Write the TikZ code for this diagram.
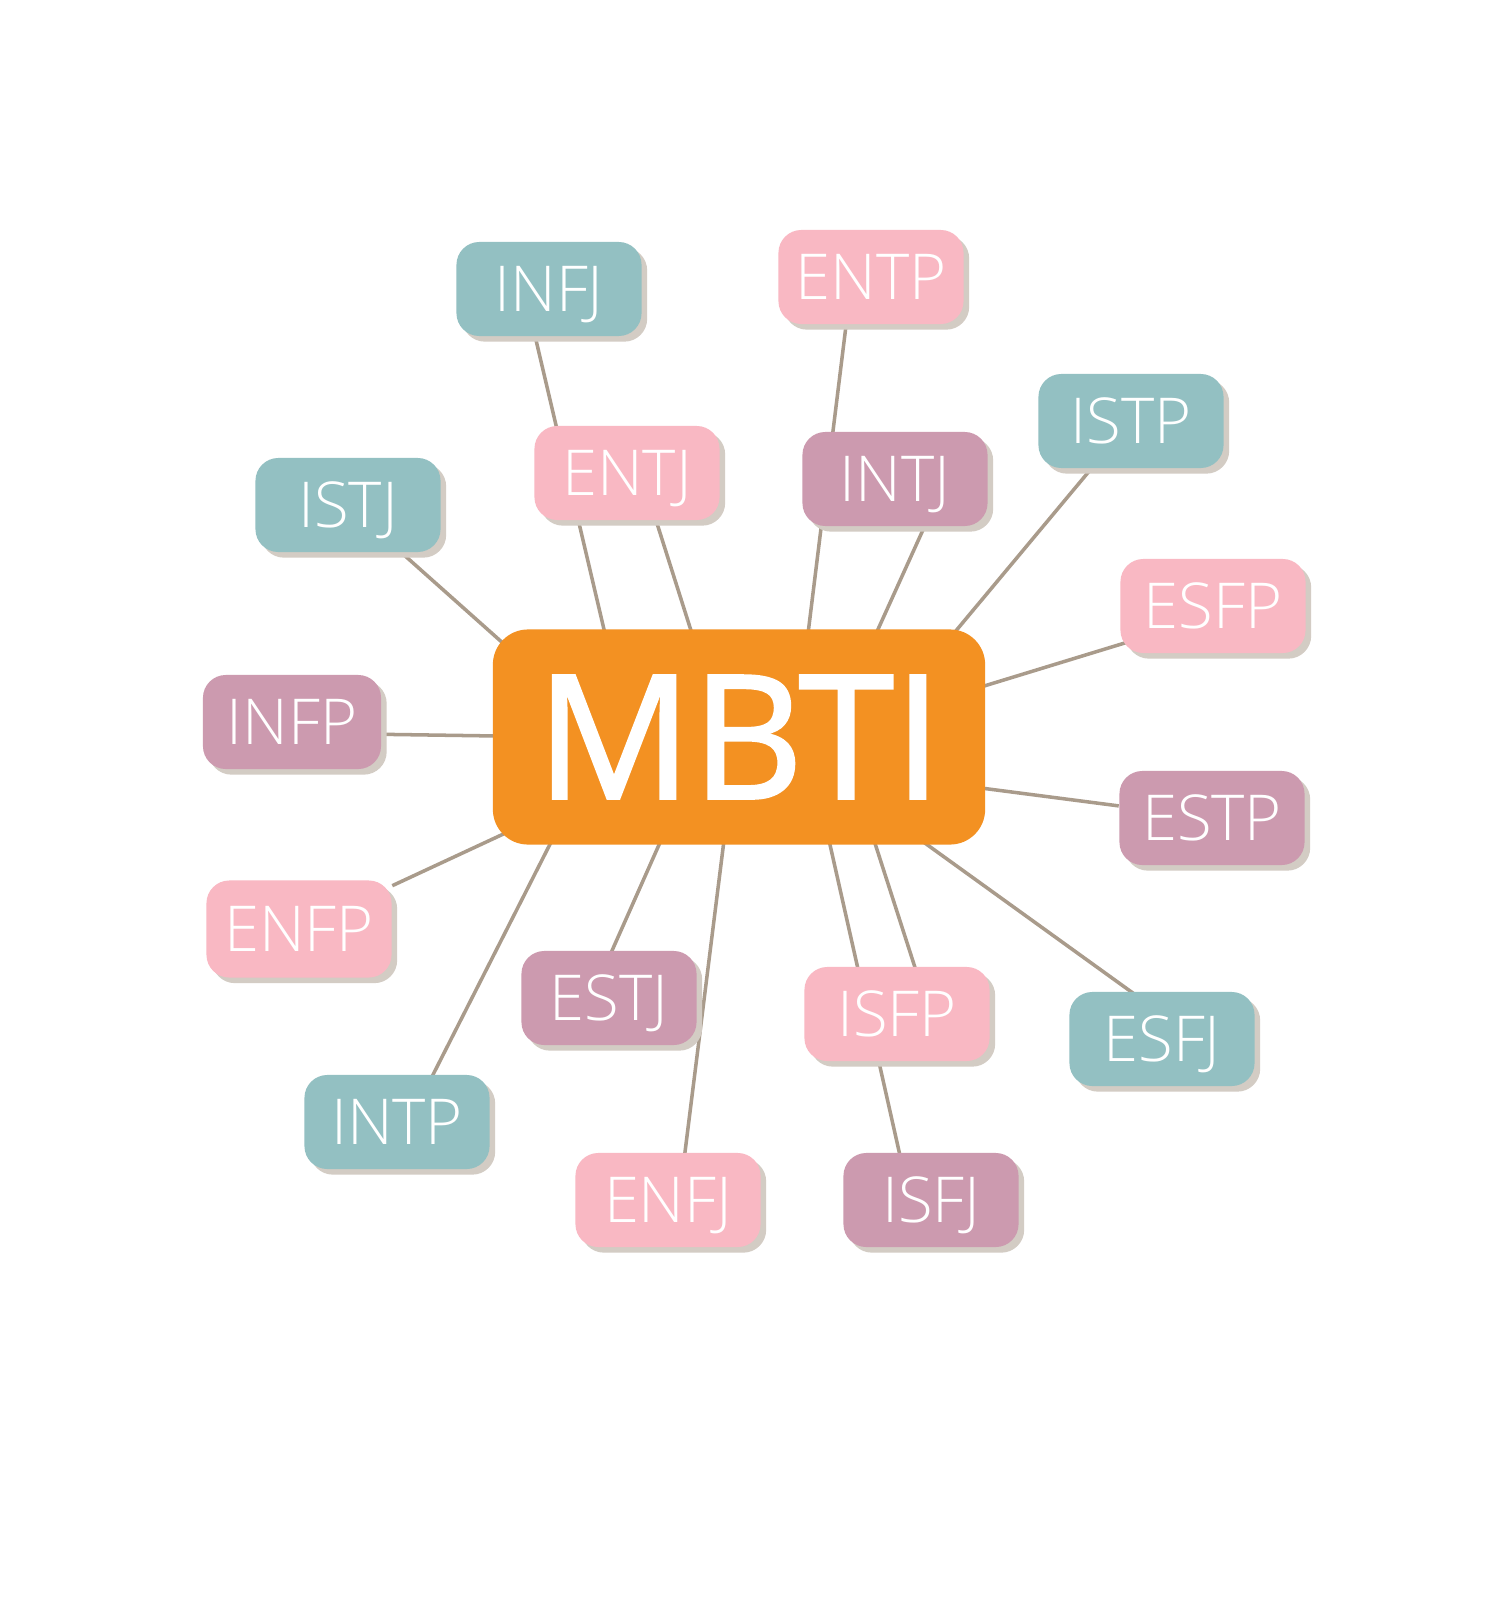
\documentclass[tikz,border=0pt]{standalone}
\usepackage{fontspec}
\setmainfont{Open Sans}
\IfFontExistsTF{Open Sans Light}{\newfontfamily\lightfont{Open Sans Light}}{\newfontfamily\lightfont{Open Sans}}
\IfFontExistsTF{Open Sans SemiBold}{\newfontfamily\heavyfont{Open Sans SemiBold}}{\newfontfamily\heavyfont{Open Sans}[FakeBold=1.5]}
\usetikzlibrary{calc,backgrounds,shadows}
\definecolor{cTeal}{HTML}{93C0C2}
\definecolor{cPink}{HTML}{F9B8C3}
\definecolor{cMauve}{HTML}{CC9AAF}
\definecolor{cOrange}{HTML}{F39122}
\definecolor{cShadow}{HTML}{D3CCC4}
\definecolor{cLine}{HTML}{A99B8B}
\begin{document}
\begin{tikzpicture}[x=0.01cm,y=0.01cm,
  lbl/.style={rounded corners=6.5pt, minimum width=18.5mm, minimum height=9.4mm,
    inner sep=0pt, text=white, font=\lightfont\fontsize{18}{20}\selectfont,
    text height=12.9pt, text depth=0pt,
    drop shadow={shadow xshift=1.6pt, shadow yshift=-1.6pt, fill=cShadow, opacity=1}},
  tealbox/.style={lbl, fill=cTeal},
  pinkbox/.style={lbl, fill=cPink},
  mauvebox/.style={lbl, fill=cMauve},
  mbti/.style={rounded corners=10pt, fill=cOrange, minimum width=49.2mm, minimum height=21.5mm,
    inner sep=0pt, text=white, font=\heavyfont\fontsize{49}{54}\selectfont,
    text height=35pt, text depth=0pt},
  link/.style={draw=cLine, line width=1pt}]
\useasboundingbox (0,0) rectangle (1500,-1600);

\node[mbti] (M) at (739,-737) {MBTI};

\node[tealbox]  (INFJ) at (549,-289) {INFJ};
\node[pinkbox]  (ENTP) at (871,-277) {ENTP};
\node[tealbox]  (ISTP) at (1131,-421) {ISTP};
\node[pinkbox]  (ENTJ) at (627,-473) {ENTJ};
\node[mauvebox] (INTJ) at (895,-479) {INTJ};
\node[tealbox]  (ISTJ) at (348,-505) {ISTJ};
\node[pinkbox]  (ESFP) at (1213,-606) {ESFP};
\node[mauvebox, minimum width=17.8mm] (INFP) at (292,-722) {INFP};
\node[mauvebox] (ESTP) at (1212,-818) {ESTP};
\node[pinkbox, minimum height=9.7mm] (ENFP) at (299,-929) {ENFP};
\node[mauvebox, minimum width=17.5mm] (ESTJ) at (609,-998) {ESTJ};
\node[pinkbox]  (ISFP) at (897,-1014) {ISFP};
\node[tealbox]  (ESFJ) at (1162,-1039) {ESFJ};
\node[tealbox]  (INTP) at (397,-1122) {INTP};
\node[pinkbox]  (ENFJ) at (668,-1200) {ENFJ};
\node[mauvebox, minimum width=17.5mm] (ISFJ) at (931,-1200) {ISFJ};

\begin{scope}[on background layer]
\fill[white] (0,0) rectangle (1500,-1600);
\draw[link] ($(M.north)+(-134,-5)$) -- ($(INFJ)+(-25,0)$);
\draw[link] ($(M.north)+(69,-5)$) -- ($(ENTP)+(-19,0)$);
\draw[link] ($(M.north)+(212,-8)$) -- (ISTP);
\draw[link] ($(M.north)+(-47,-5)$) -- ($(ENTJ)+(14,0)$);
\draw[link] ($(M.north)+(137,-5)$) -- ($(INTJ)+(51,0)$);
\draw[link] ($(M.north)+(-232,-18)$) -- (ISTJ);
\draw[link] ($(M.east)+(-5,50)$) -- ($(ESFP)+(0,-10)$);
\draw[link] ($(M.west)+(5,1)$) -- ($(INFP)+(0,-11)$);
\draw[link] ($(M.east)+(-5,-51)$) -- (ESTP);
\draw[link] ($(M.south)+(-234,12)$) -- (ENFP);
\draw[link] ($(M.south)+(-78,5)$) -- ($(ESTJ)+(-18,0)$);
\draw[link] ($(M.south)+(-15,5)$) -- ($(ENFJ)+(11,0)$);
\draw[link] ($(M.south)+(-187,5)$) -- ($(INTP)+(12,0)$);
\draw[link] ($(M.south)+(90,5)$) -- ($(ISFJ)+(-21,0)$);
\draw[link] ($(M.south)+(135,5)$) -- ($(ISFP)+(33,0)$);
\draw[link] ($(M.south)+(182,5)$) -- ($(ESFJ)+(0,25)$);
\end{scope}
\end{tikzpicture}
\end{document}
